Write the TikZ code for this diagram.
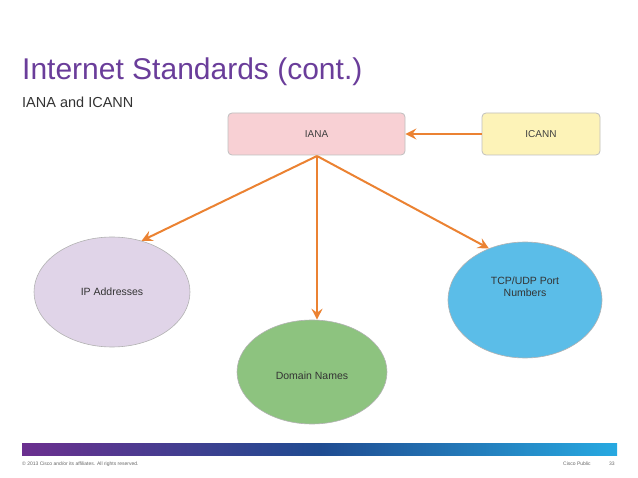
\documentclass[tikz,border=0pt]{standalone}
\usepackage{fontspec}
\setmainfont{Liberation Sans}
\usetikzlibrary{shapes.geometric,arrows.meta}
\begin{document}
\begin{tikzpicture}[x=1pt,y=-1pt,
  box/.style={draw=black!25,line width=0.8pt,rounded corners=4pt,minimum width=177pt,minimum height=42pt,font=\fontsize{10}{11}\selectfont,text=black!75},
  ell/.style={shape=ellipse,draw=black!30,line width=0.6pt,font=\fontsize{10.5}{12}\selectfont,text=black!80,align=center},
  arr/.style={draw={rgb,255:red,235;green,130;blue,50},line width=2pt,-{Stealth[length=11pt,width=11pt,inset=4pt]}}]
\useasboundingbox (0,0) rectangle (638,478);
\node[anchor=base west,text={rgb,255:red,106;green,61;blue,154},font=\fontsize{30}{32}\selectfont,inner sep=0] (t) at (22,80) {Internet Standards (cont.)};
\node[anchor=base west,text=black!80,font=\fontsize{14.5}{16}\selectfont,inner sep=0] (s) at (22,108) {IANA and ICANN};
\node[box,fill={rgb,255:red,248;green,208;blue,212}] (iana) at (316.5,134) {IANA};
\node[box,minimum width=118pt,fill={rgb,255:red,253;green,243;blue,184}] (icann) at (541,134) {ICANN};
\node[ell,minimum width=156pt,minimum height=110pt,fill={rgb,255:red,224;green,212;blue,232}] (ip) at (112,292) {IP Addresses};
\node[ell,minimum width=150pt,minimum height=104pt,fill={rgb,255:red,141;green,195;blue,127}] (dn) at (312,372) {\\[4pt]Domain Names};
\node[ell,minimum width=154pt,minimum height=116pt,fill={rgb,255:red,91;green,189;blue,232}] (tcp) at (525,300) {TCP/UDP Port\\Numbers\\[14pt]};
\coordinate (o) at (317,156);
\draw[arr] (icann) -- (iana);
\draw[arr] (o) -- (ip.60);
\draw[arr] (o) -- (o |- dn.north);
\draw[arr] (o) -- (tcp.125);
\shade[left color={rgb,255:red,107;green,47;blue,143},right color={rgb,255:red,39;green,169;blue,225},middle color={rgb,255:red,31;green,75;blue,145}] (22,444) rectangle (617,456);
\node[anchor=base west,font=\fontsize{5}{6}\selectfont,text=black!60,inner sep=0] (c) at (22,466) {© 2013 Cisco and/or its affiliates. All rights reserved.};
\node[anchor=base west,font=\fontsize{5}{6}\selectfont,text=black!60,inner sep=0] (cp) at (563,466) {Cisco Public};
\node[anchor=base west,font=\fontsize{5}{6}\selectfont,text=black!60,inner sep=0] (n) at (609,466) {33};
\end{tikzpicture}
\end{document}
